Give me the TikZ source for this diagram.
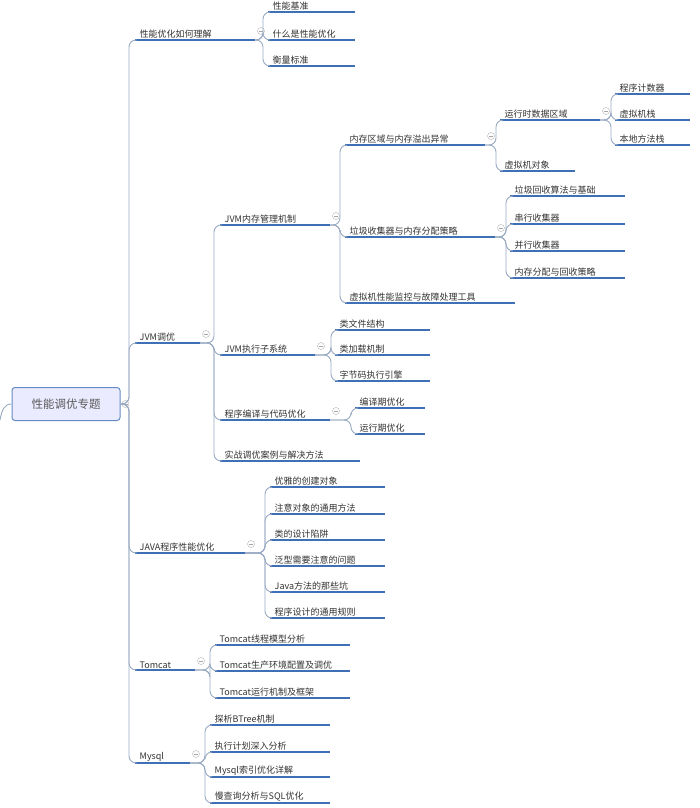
\documentclass[tikz,border=0pt]{standalone}
\usepackage{fontspec}
\newfontfamily\cjk{Noto Sans CJK SC}
\usetikzlibrary{calc}
\definecolor{lb}{HTML}{3F6FB5}
\definecolor{cg}{HTML}{9AABC4}
\tikzset{
 tline/.style={draw=lb,line width=1.4pt},
 conn/.style={draw=cg,line width=0.9pt,rounded corners=7pt},
 ttext/.style={font=\cjk\fontsize{9}{11}\selectfont,inner sep=1.5pt,anchor=south west,text=black!80},
 coll/.style={circle,draw=gray!60,fill=white,minimum size=7pt,inner sep=0pt,
   path picture={\draw[gray!70,line width=0.5pt]([xshift=-2pt]path picture bounding box.center)--([xshift=2pt]path picture bounding box.center);}},
}
\newcommand\tp[5]{%
 \draw[tline] (#2,#4) -- (#3,#4);
 \node[ttext] (#1) at (#2+3,#4) {#5};
 \coordinate (#1-l) at (#2,#4); \coordinate (#1-r) at (#3,#4);}
\newcommand\cl[1]{\node[coll] (#1-c) at ($(#1-r)+(6,-9)$) {};}
\newcommand\br[3]{\draw[conn] (#1-r) -| ($(#2-l)+(-#3,0)$) -- ($(#2-l)+(2,0)$);}
\begin{document}
\begin{tikzpicture}[x=1pt,y=-1pt]
\useasboundingbox[fill=white] (0,0) rectangle (700,808);
\node[draw=lb!80,fill=blue!8,rounded corners=3pt,line width=1pt,minimum width=108pt,minimum height=33pt,text=black!65,font=\cjk\fontsize{11.5}{13}\selectfont] (root) at (66,404) {性能调优专题};
\draw[cg,line width=0.9pt] (root.west) .. controls (4,404) and (2,410) .. (0,420);
\node[coll] (rootc) at ($(root.east)+(5,0)$) {};
\coordinate (root-r) at (root.east);
% level 1
\tp{a}{135}{255}{40}{性能优化如何理解}\cl{a}
\tp{b}{135}{200}{343}{JVM调优}\cl{b}
\tp{c}{135}{245}{553}{JAVA程序性能优化}\cl{c}
\tp{d}{135}{195}{670}{Tomcat}\cl{d}
\tp{e}{135}{190}{763}{Mysql}\cl{e}
\foreach \n in {a,b,c,d,e}{\br{root}{\n}{6}}
% a children
\tp{a1}{268}{355}{12}{性能基准}
\tp{a2}{268}{355}{40}{什么是性能优化}
\tp{a3}{268}{355}{66}{衡量标准}
\foreach \n in {a1,a2,a3}{\br{a}{\n}{5}}
% b children
\tp{b1}{220}{330}{225}{JVM内存管理机制}\cl{b1}
\tp{b2}{220}{315}{355}{JVM执行子系统}\cl{b2}
\tp{b3}{220}{330}{420}{程序编译与代码优化}\cl{b3}
\tp{b4}{220}{360}{461}{实战调优案例与解决方法}
\foreach \n in {b1,b2,b3,b4}{\br{b}{\n}{6}}
% b1 children
\tp{m1}{345}{485}{145}{内存区域与内存溢出异常}\cl{m1}
\tp{m2}{345}{495}{237}{垃圾收集器与内存分配策略}\cl{m2}
\tp{m3}{345}{515}{303}{虚拟机性能监控与故障处理工具}
\foreach \n in {m1,m2,m3}{\br{b1}{\n}{5}}
\tp{r1}{500}{600}{120}{运行时数据区域}\cl{r1}
\tp{r2}{500}{575}{171}{虚拟机对象}
\foreach \n in {r1,r2}{\br{m1}{\n}{4}}
\tp{s1}{615}{690}{94}{程序计数器}
\tp{s2}{615}{690}{120}{虚拟机栈}
\tp{s3}{615}{690}{145}{本地方法栈}
\foreach \n in {s1,s2,s3}{\br{r1}{\n}{4}}
\tp{g1}{510}{625}{196}{垃圾回收算法与基础}
\tp{g2}{510}{625}{224}{串行收集器}
\tp{g3}{510}{625}{251}{并行收集器}
\tp{g4}{510}{625}{278}{内存分配与回收策略}
\foreach \n in {g1,g2,g3,g4}{\br{m2}{\n}{4}}
\tp{x1}{335}{430}{330}{类文件结构}
\tp{x2}{335}{430}{355}{类加载机制}
\tp{x3}{335}{430}{381}{字节码执行引擎}
\foreach \n in {x1,x2,x3}{\br{b2}{\n}{4}}
\tp{y1}{355}{425}{408}{编译期优化}
\tp{y2}{355}{425}{434}{运行期优化}
\foreach \n in {y1,y2}{\br{b3}{\n}{4}}
% c children
\tp{c1}{270}{385}{487}{优雅的创建对象}
\tp{c2}{270}{385}{514}{注意对象的通用方法}
\tp{c3}{270}{385}{540}{类的设计陷阱}
\tp{c4}{270}{385}{566}{泛型需要注意的问题}
\tp{c5}{270}{385}{592}{Java方法的那些坑}
\tp{c6}{270}{385}{618}{程序设计的通用规则}
\foreach \n in {c1,c2,c3,c4,c5,c6}{\br{c}{\n}{5}}
% d children
\tp{d1}{215}{350}{645}{Tomcat线程模型分析}
\tp{d2}{215}{350}{671}{Tomcat生产环境配置及调优}
\tp{d3}{215}{350}{698}{Tomcat运行机制及框架}
\foreach \n in {d1,d2,d3}{\br{d}{\n}{5}}
% e children
\tp{e1}{210}{330}{725}{探析BTree机制}
\tp{e2}{210}{330}{752}{执行计划深入分析}
\tp{e3}{210}{330}{777}{Mysql索引优化详解}
\tp{e4}{210}{330}{803}{慢查询分析与SQL优化}
\foreach \n in {e1,e2,e3,e4}{\br{e}{\n}{5}}
\end{tikzpicture}
\end{document}
